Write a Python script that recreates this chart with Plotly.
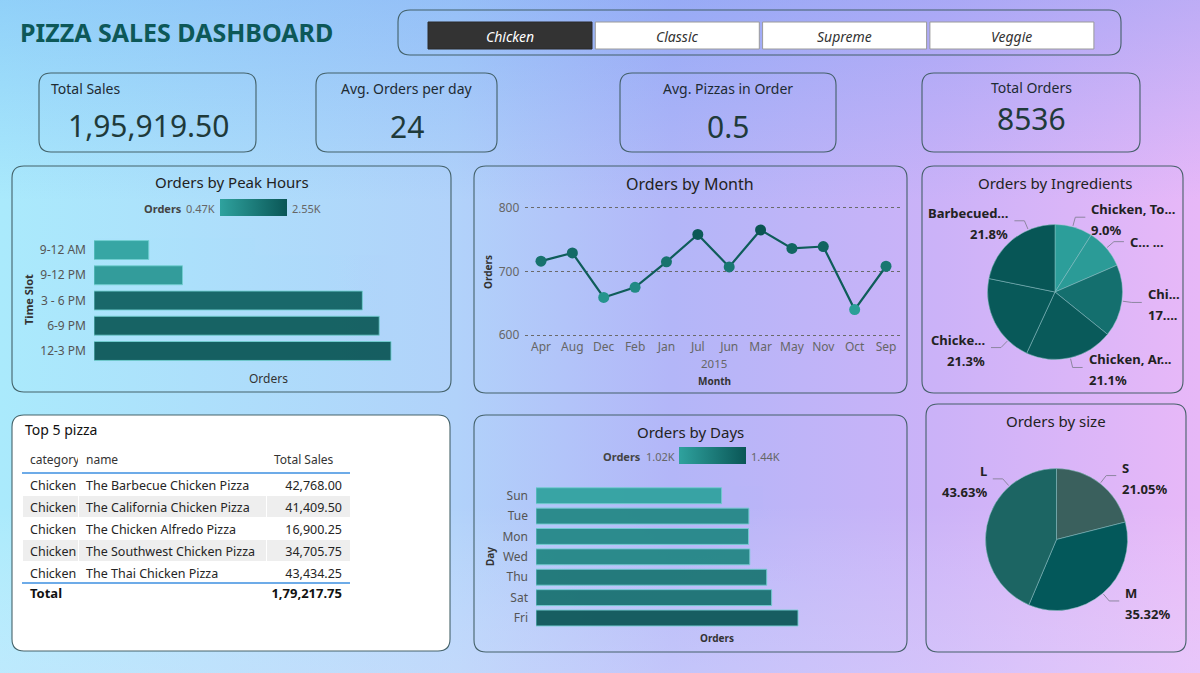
import math
import base64
import plotly.graph_objects as go
from plotly.colors import sample_colorscale

W, H = 1200, 673
FONT = "Noto Sans"

# ---------------- data ----------------
pizza_categories = ["Chicken", "Classic", "Supreme", "Veggie"]
selected_category = "Chicken"

kpi_titles = ["Total Sales", "Avg. Orders per day", "Avg. Pizzas in Order", "Total Orders"]
total_sales = 195919.50
avg_orders_per_day = 24
avg_pizzas_in_order = 0.5
total_orders = 8536

time_slots = ["9-12 AM", "9-12 PM", "3 - 6 PM", "6-9 PM", "12-3 PM"]
slot_orders = [470, 760, 2305, 2450, 2551]

months = ["Apr", "Aug", "Dec", "Feb", "Jan", "Jul", "Jun", "Mar", "May", "Nov", "Oct", "Sep"]
month_orders = [716, 729, 659, 675, 715, 758, 707, 765, 736, 739, 640, 708]
month_year = "2015"
month_ticks = [600, 700, 800]

ingredient_labels = ["Chicken, To...", "C... ...", "Chi...", "Chicken, Ar...", "Chicke...", "Barbecued..."]
ingredient_pct_text = ["9.0%", "", "17....", "21.1%", "21.3%", "21.8%"]
ingredient_share = [9.0, 9.5, 17.3, 21.1, 21.3, 21.8]

days = ["Sun", "Tue", "Mon", "Wed", "Thu", "Sat", "Fri"]
day_orders = [1020, 1170, 1168, 1175, 1268, 1295, 1440]

size_labels = ["S", "M", "L"]
size_share = [21.05, 35.32, 43.63]

top_category = ["Chicken", "Chicken", "Chicken", "Chicken", "Chicken"]
top_names = ["The Barbecue Chicken Pizza", "The California Chicken Pizza",
             "The Chicken Alfredo Pizza", "The Southwest Chicken Pizza",
             "The Thai Chicken Pizza"]
top_sales = [42768.00, 41409.50, 16900.25, 34705.75, 43434.25]
table_headers = ["category", "name", "Total Sales"]
total_label = "Total"

# ---------------- styles ----------------
TEAL_SCALE = [[0, "#2fa29e"], [1, "#0a5656"]]
PIE_SCALE = [[0, "#2c9e9a"], [1, "#075656"]]
SIZE_COLORS = ["#3a605d", "#03585a", "#1c6563"]
BORDER = "rgba(62,92,98,0.95)"
LEADER = "#8d86a0"
NBSP = "\u00a0"


def X(px):
    return px / W


def Y(py):
    return 1 - py / H


def indian(v, dec=2):
    s = f"{v:.{dec}f}"
    ip, fr = (s.split(".") + [""])[:2]
    if len(ip) > 3:
        head, tail = ip[:-3], ip[-3:]
        groups = []
        while len(head) > 2:
            groups.insert(0, head[-2:])
            head = head[:-2]
        if head:
            groups.insert(0, head)
        ip = ",".join(groups + [tail])
    return ip + ("." + fr if fr else "")


def kfmt(v):
    return f"{v / 1000:.2f}K"


def rrect(x0, y0, x1, y1, r):
    def p(x, y):
        return f"{X(x):.5f},{Y(y):.5f}"
    return (f"M{p(x0 + r, y0)} L{p(x1 - r, y0)} Q{p(x1, y0)} {p(x1, y0 + r)} "
            f"L{p(x1, y1 - r)} Q{p(x1, y1)} {p(x1 - r, y1)} L{p(x0 + r, y1)} "
            f"Q{p(x0, y1)} {p(x0, y1 - r)} L{p(x0, y0 + r)} Q{p(x0, y0)} {p(x0 + r, y0)} Z")


def svg_uri(svg):
    return "data:image/svg+xml;base64," + base64.b64encode(svg.encode()).decode()


def grad_uri(c0, c1):
    svg = ('<svg xmlns="http://www.w3.org/2000/svg" width="100" height="20" viewBox="0 0 100 20" '
           'preserveAspectRatio="none"><defs><linearGradient id="g" x1="0" y1="0" x2="1" y2="0">'
           f'<stop offset="0" stop-color="{c0}"/><stop offset="1" stop-color="{c1}"/>'
           '</linearGradient></defs><rect width="100" height="20" fill="url(#g)"/></svg>')
    return svg_uri(svg)


shapes, annotations, images = [], [], []


def txt(x, y, s, size=12, color="#222", xanchor="center", yanchor="middle",
        bold=False, italic=False, angle=0):
    annotations.append(dict(
        x=X(x), y=Y(y), xref="paper", yref="paper", text=s, showarrow=False,
        xanchor=xanchor, yanchor=yanchor, textangle=angle,
        font=dict(family=FONT, size=size, color=color,
                  weight="bold" if bold else "normal",
                  style="italic" if italic else "normal")))


def box(x0, y0, x1, y1, r=12, fill="rgba(0,0,0,0)", color=BORDER, width=1.1):
    shapes.append(dict(type="path", xref="paper", yref="paper", path=rrect(x0, y0, x1, y1, r),
                       fillcolor=fill, line=dict(color=color, width=width), layer="below"))


def seg(pts, color=LEADER, width=1):
    path = "M" + " L".join(f"{X(a):.5f},{Y(b):.5f}" for a, b in pts)
    shapes.append(dict(type="path", xref="paper", yref="paper", path=path,
                       line=dict(color=color, width=width)))


# ---------------- background ----------------
bg = (f'<svg xmlns="http://www.w3.org/2000/svg" width="{W}" height="{H}" viewBox="0 0 {W} {H}" '
      'preserveAspectRatio="none"><defs>'
      '<linearGradient id="h" x1="0" y1="0" x2="1" y2="0">'
      '<stop offset="0" stop-color="#aaeafc"/><stop offset="0.38" stop-color="#b1d2fa"/>'
      '<stop offset="0.56" stop-color="#b3b6f8"/><stop offset="0.78" stop-color="#cbb2f8"/>'
      '<stop offset="1" stop-color="#e8b8f8"/></linearGradient>'
      '<linearGradient id="v" x1="0" y1="0" x2="0" y2="1">'
      '<stop offset="0" stop-color="#4f8ff0" stop-opacity="0.28"/>'
      '<stop offset="0.3" stop-color="#4f8ff0" stop-opacity="0"/>'
      '<stop offset="0.75" stop-color="#ffffff" stop-opacity="0"/>'
      '<stop offset="1" stop-color="#e8e8ff" stop-opacity="0.3"/></linearGradient>'
      '</defs><rect width="100%" height="100%" fill="url(#h)"/>'
      '<rect width="100%" height="100%" fill="url(#v)"/></svg>')
images.append(dict(source=svg_uri(bg), xref="paper", yref="paper", x=0, y=1, sizex=1, sizey=1,
                   xanchor="left", yanchor="top", sizing="stretch", layer="below"))

# ---------------- header ----------------
txt(18, 32, "PIZZA SALES DASHBOARD", size=25, color="#0d5858", xanchor="left", bold=True)

box(398, 10, 1121, 55, r=12)
btn_w, btn_gap = 164, 3.3
for i, cat in enumerate(pizza_categories):
    bx0 = 428 + i * (btn_w + btn_gap)
    sel = cat == selected_category
    shapes.append(dict(type="rect", xref="paper", yref="paper",
                       x0=X(bx0), x1=X(bx0 + btn_w), y0=Y(49), y1=Y(22),
                       fillcolor="#333333" if sel else "#ffffff",
                       line=dict(color="#2a2a2a" if sel else "#9a9a9a", width=1)))
    txt(bx0 + btn_w / 2, 36, cat, size=14, color="#ffffff" if sel else "#333333", italic=True)

# ---------------- KPI cards ----------------
kpi_values = [indian(total_sales), str(avg_orders_per_day), str(avg_pizzas_in_order), str(total_orders)]
kpi_boxes = [(39, 256), (316, 497), (620, 836), (922, 1140)]
for i, ((x0, x1), title, val) in enumerate(zip(kpi_boxes, kpi_titles, kpi_values)):
    box(x0, 73, x1, 152)
    if i == 0:
        txt(49, 89, title, size=14, color="#1e2b33", xanchor="left")
        txt(148, 125, val, size=30, color="#1f3a3a")
    else:
        cx = (x0 + x1) / 2
        txt(cx, 88 if i == 3 else 89, title, size=14, color="#1e2b33")
        txt(cx, 118 if i == 3 else 126, val, size=30, color="#1f3a3a")

# ---------------- panels ----------------
box(12, 166, 451, 392)
box(474, 166, 907, 393)
box(922, 166, 1183, 393)
box(12, 415, 450, 651, fill="#ffffff")
box(474, 415, 907, 652)
box(926, 404, 1186, 652)

fig = go.Figure()

# ----- Orders by Peak Hours -----
txt(232, 182, "Orders by Peak Hours", size=15, color="#222")
fig.add_trace(go.Bar(
    y=time_slots, x=slot_orders, orientation="h", xaxis="x", yaxis="y", width=0.75,
    marker=dict(color=slot_orders, colorscale=TEAL_SCALE, cmin=min(slot_orders), cmax=max(slot_orders),
                line=dict(color="rgba(110,205,205,0.9)", width=1)),
    opacity=0.93, showlegend=False, hoverinfo="x+y"))
txt(184, 208, "Orders", size=11, color="#444", xanchor="right", bold=True)
txt(217, 208, kfmt(min(slot_orders)), size=11, color="#666", xanchor="right")
txt(290, 208, kfmt(max(slot_orders)), size=11, color="#666", xanchor="left")
images.append(dict(source=grad_uri(TEAL_SCALE[0][1], TEAL_SCALE[1][1]), xref="paper", yref="paper",
                   x=X(220), y=Y(199), sizex=67 / W, sizey=17 / H, xanchor="left", yanchor="top",
                   sizing="stretch", layer="above"))
txt(28, 300, "Time Slot", size=11, color="#333", bold=True, angle=-90)
txt(268, 378, "Orders", size=12, color="#333")

# ----- Orders by Month -----
txt(690, 184, "Orders by Month", size=16, color="#222")
fig.add_trace(go.Scatter(
    x=months, y=month_orders, mode="lines+markers", xaxis="x2", yaxis="y2",
    line=dict(color="#0f5d5a", width=2.2),
    marker=dict(size=11, color=month_orders, colorscale=[[0, "#2a9f97"], [1, "#0a5552"]],
                cmin=min(month_orders), cmax=max(month_orders)),
    showlegend=False))
txt(714, 363, month_year, size=11.5, color="#666")
txt(714, 381, "Month", size=10, color="#333", bold=True)
txt(488, 272, "Orders", size=10, color="#333", bold=True, angle=-90)

# ----- Orders by Days -----
txt(690, 432, "Orders by Days", size=15, color="#222")
fig.add_trace(go.Bar(
    y=days, x=day_orders, orientation="h", xaxis="x3", yaxis="y3", width=0.78,
    marker=dict(color=day_orders, colorscale=TEAL_SCALE, cmin=min(day_orders), cmax=max(day_orders),
                line=dict(color="rgba(110,205,205,0.9)", width=1)),
    opacity=0.93, showlegend=False, hoverinfo="x+y"))
txt(643, 456, "Orders", size=11, color="#444", xanchor="right", bold=True)
txt(677, 456, kfmt(min(day_orders)), size=11, color="#666", xanchor="right")
txt(749, 456, kfmt(max(day_orders)), size=11, color="#666", xanchor="left")
images.append(dict(source=grad_uri(TEAL_SCALE[0][1], TEAL_SCALE[1][1]), xref="paper", yref="paper",
                   x=X(679), y=Y(447), sizex=67 / W, sizey=17 / H, xanchor="left", yanchor="top",
                   sizing="stretch", layer="above"))
txt(490, 557, "Day", size=10, color="#333", bold=True, angle=-90)
txt(717, 638, "Orders", size=10, color="#333", bold=True)


# ----- pies -----
def est_width(s, fs):
    return sum(0.3 if ch in ".,: " else 0.62 for ch in s) * fs


def pie_labels(cx, cy, r, values, labels, pcts, px0, px1, fs=13):
    total = sum(values)
    cum = 0.0
    for v, lab, pct in zip(values, labels, pcts):
        ang = (cum + v / 2) / total * 360
        cum += v
        w = max(est_width(lab, fs), est_width(pct, fs))
        for _ in range(80):
            s, c = math.sin(math.radians(ang)), math.cos(math.radians(ang))
            side = 1 if s >= 0 else -1
            ex, ey = cx + (r + 10) * s, cy - (r + 10) * c
            hx = ex + side * 10
            if (side > 0 and hx + 4 + w <= px1) or (side < 0 and hx - 4 - w >= px0):
                break
            if side > 0:
                ang += -1 if ang < 90 else 1
            else:
                ang += 1 if ang > 270 else -1
        seg([(cx + (r + 1) * s, cy - (r + 1) * c), (ex, ey), (hx, ey)])
        anchor = "left" if side > 0 else "right"
        tx = hx + side * 4
        if pct:
            txt(tx, ey - 8, lab, size=fs, color="#222", xanchor=anchor, bold=True)
            txt(tx, ey + 13, pct, size=fs, color="#222", xanchor=anchor, bold=True)
        else:
            txt(tx, ey, lab, size=fs, color="#222", xanchor=anchor, bold=True)


# ingredients
txt(1055, 183, "Orders by Ingredients", size=15, color="#222")
icx, icy, ir = 1055, 292, 67.5
lo, hi = min(ingredient_share), max(ingredient_share)
ing_colors = sample_colorscale(PIE_SCALE, [(v - lo) / (hi - lo) for v in ingredient_share])
fig.add_trace(go.Pie(
    labels=ingredient_labels, values=ingredient_share, sort=False, direction="clockwise", rotation=0,
    textinfo="none", marker=dict(colors=ing_colors, line=dict(color="rgba(140,195,195,0.7)", width=0.7)),
    domain=dict(x=[X(icx - ir), X(icx + ir)], y=[Y(icy + ir), Y(icy - ir)]), showlegend=False))
pie_labels(icx, icy, ir, ingredient_share, ingredient_labels, ingredient_pct_text, 926, 1182)

# sizes
txt(1056, 421, "Orders by size", size=15, color="#222")
scx, scy, sr = 1056.5, 539.5, 71
fig.add_trace(go.Pie(
    labels=size_labels, values=size_share, sort=False, direction="clockwise", rotation=0,
    textinfo="none", marker=dict(colors=SIZE_COLORS, line=dict(color="rgba(140,195,195,0.7)", width=0.7)),
    domain=dict(x=[X(scx - sr), X(scx + sr)], y=[Y(scy + sr), Y(scy - sr)]), showlegend=False))
tot = sum(size_share)
pie_labels(scx, scy, sr, size_share, size_labels,
           [f"{v / tot * 100:.2f}%" for v in size_share], 944, 1183)

# ----- table -----
txt(23, 430, "Top 5 pizza", size=14, color="#111", xanchor="left")
row_fill = ["#ffffff" if i % 2 == 0 else "#eeeeee" for i in range(len(top_names))]
col_w = [56, 188, 84]
fig.add_trace(go.Table(
    domain=dict(x=[X(22), X(350)], y=[Y(583), Y(447)]),
    columnwidth=col_w,
    header=dict(values=[h.replace(" ", NBSP) for h in table_headers], height=26, fill_color="#ffffff",
                line=dict(color="#ffffff", width=1), align="left",
                font=dict(family=FONT, size=12, color="#333")),
    cells=dict(values=[top_category,
                       [n.replace(" ", NBSP) for n in top_names],
                       [indian(v) for v in top_sales]],
               height=22, fill_color=[row_fill] * 3,
               line=dict(color="#ffffff", width=1), align=["left", "left", "right"],
               font=dict(family=FONT, size=12.5, color="#252525"))))
# totals row (drawn as a one-row table whose header is the total line)
fig.add_trace(go.Table(
    domain=dict(x=[X(22), X(350)], y=[Y(636), Y(580)]),
    columnwidth=col_w,
    header=dict(values=[total_label, "", indian(sum(top_sales))], height=22, fill_color="rgba(0,0,0,0)",
                line=dict(color="rgba(0,0,0,0)", width=0), align=["left", "left", "right"],
                font=dict(family=FONT, size=13, color="#111", weight="bold")),
    cells=dict(values=[[], [], []], height=1, fill_color="rgba(0,0,0,0)",
               line=dict(color="rgba(0,0,0,0)", width=0))))
for ly in (473, 583):
    shapes.append(dict(type="line", xref="paper", yref="paper", x0=X(22), x1=X(350), y0=Y(ly), y1=Y(ly),
                       line=dict(color="#3d8fe0", width=1.5)))

# ---------------- axes ----------------
hidden = dict(showgrid=False, zeroline=False, showline=False, showticklabels=False, ticks="",
              automargin=False)
fig.update_layout(
    width=W, height=H, margin=dict(l=0, r=0, t=0, b=0, pad=0, autoexpand=False),
    paper_bgcolor="#ffffff", plot_bgcolor="rgba(0,0,0,0)",
    font=dict(family=FONT),
    xaxis=dict(domain=[X(94), X(440)], range=[0, max(slot_orders) * 346 / 297], anchor="y", **hidden),
    yaxis=dict(domain=[Y(363.6), Y(237.4)], anchor="x", type="category", categoryorder="array",
               categoryarray=time_slots, autorange="reversed", showgrid=False, zeroline=False,
               showline=False, ticks="", ticklabelstandoff=7, automargin=False,
               tickfont=dict(family=FONT, size=12, color="#555")),
    xaxis2=dict(domain=[X(525.3), X(901.7)], anchor="y2", type="category", categoryorder="array",
                categoryarray=months, range=[-0.5, len(months) - 0.5], showgrid=False, zeroline=False,
                showline=False, ticks="", ticklabelstandoff=0, automargin=False,
                tickfont=dict(family=FONT, size=12, color="#666")),
    yaxis2=dict(domain=[Y(338.2), Y(204.5)], anchor="x2", range=[595, 805], tickvals=month_ticks,
                showgrid=True, gridcolor="#6a6a6a", griddash="dot", gridwidth=1, zeroline=False,
                showline=False, ticks="", ticklabelstandoff=5, automargin=False,
                tickfont=dict(family=FONT, size=12, color="#666")),
    xaxis3=dict(domain=[X(536), X(880)], range=[0, max(day_orders) * 344 / 262], anchor="y3", **hidden),
    yaxis3=dict(domain=[Y(628.2), Y(485.5)], anchor="x3", type="category", categoryorder="array",
                categoryarray=days, autorange="reversed", showgrid=False, zeroline=False,
                showline=False, ticks="", ticklabelstandoff=7, automargin=False,
                tickfont=dict(family=FONT, size=12, color="#555")),
    shapes=shapes, annotations=annotations, images=images,
)

fig.write_html("out.html")
